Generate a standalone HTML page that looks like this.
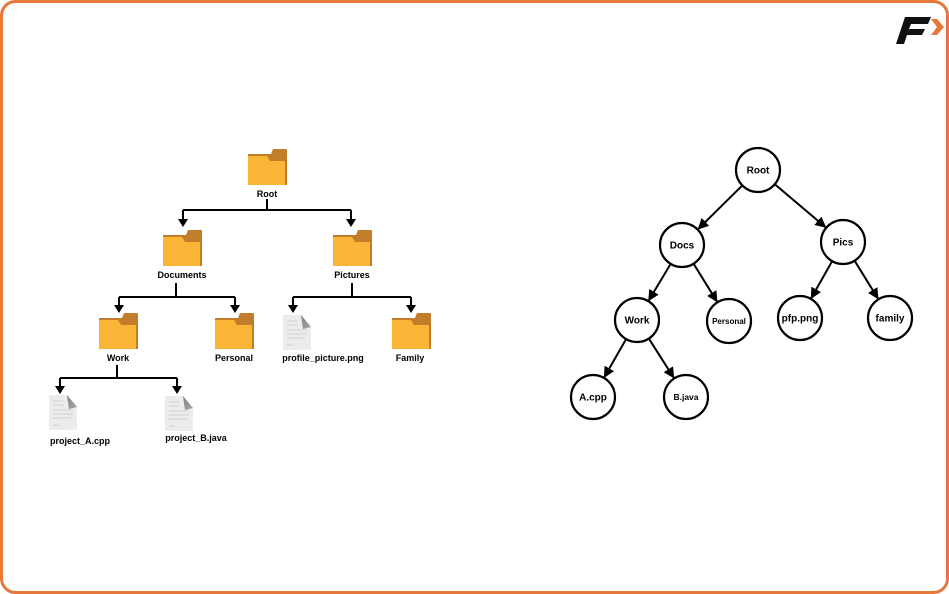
<!DOCTYPE html>
<html><head><meta charset="utf-8"><style>
html,body{margin:0;padding:0;background:#fff}
svg{display:block}
text{font-family:"Liberation Sans",Arial,sans-serif;font-weight:bold;fill:#000}
</style></head><body>
<svg id="s" width="949" height="594" viewBox="0 0 949 594" xmlns="http://www.w3.org/2000/svg">
<defs>
<marker id="ah" viewBox="0 0 10 10" refX="9" refY="5" markerWidth="5.5" markerHeight="5.5" orient="auto" markerUnits="strokeWidth">
<path d="M0,0 L10,5 L0,10 Z" fill="#000"/></marker>
<g id="folder">
<path d="M0,5 L23,5 L25,0 L38,0 Q39,0 39,1 L39,36 L0,36 Z" fill="#c27d2a"/>
<path d="M0,7 L19,7 L22,12 L37,12 L37,36 L0,36 Z" fill="#fbb536"/>
</g>
<linearGradient id="fg" x1="0" y1="0" x2="1" y2="1"><stop offset="0" stop-color="#999"/><stop offset="1" stop-color="#eee"/></linearGradient>
<g id="file">
<path d="M0,0 L18,0 L28,12 L28,35 L0,35 Z" fill="#ececec"/>
<path d="M18,0 L28,12 L20,14 Z" fill="url(#fg)"/>
<path d="M18,0 L20,14 L28,12" fill="#777" opacity="0.6"/>
<g stroke="#d0d0d0" stroke-width="1"><line x1="4" y1="6" x2="14" y2="6"/><line x1="4" y1="10" x2="15" y2="10"/><line x1="4" y1="15" x2="24" y2="15"/><line x1="4" y1="19" x2="24" y2="19"/><line x1="4" y1="23" x2="22" y2="23"/><line x1="4" y1="30" x2="10" y2="30"/></g>
</g>
</defs>
<rect x="1.5" y="1.5" width="946" height="591" rx="14" fill="#fff" stroke="#e8773a" stroke-width="3"/>
<!-- logo -->
<path d="M905,17 L931,17 L928,24 L911,24 L909,29 L925,29 L922,35 L907,35 L904,44 L896,44 Z" fill="#111"/>
<path d="M931,19 L937,19 L944,27 L937,35 L931,35 L937,27 Z" fill="#e8773a"/>

<!-- left tree -->
<g stroke="#000" stroke-width="2" fill="none">
<path d="M267,199 V210 M183,210 H351 M183,210 V224 M351,210 V224" />
<path d="M176,283 V297 M119,297 H235 M119,297 V310 M235,297 V310"/>
<path d="M352,283 V297 M293,297 H411 M293,297 V310 M411,297 V310"/>
<path d="M117,365 V378 M60,378 H177 M60,378 V391 M177,378 V391"/>
</g>
<g fill="#000">
<path d="M178,219 L188,219 L183,227 Z"/><path d="M346,219 L356,219 L351,227 Z"/>
<path d="M114,305 L124,305 L119,313 Z"/><path d="M230,305 L240,305 L235,313 Z"/>
<path d="M288,305 L298,305 L293,313 Z"/><path d="M406,305 L416,305 L411,313 Z"/>
<path d="M55,386 L65,386 L60,394 Z"/><path d="M172,386 L182,386 L177,394 Z"/>
</g>
<use href="#folder" x="248" y="149"/>
<use href="#folder" x="163" y="230"/>
<use href="#folder" x="333" y="230"/>
<use href="#folder" x="99" y="313"/>
<use href="#folder" x="215" y="313"/>
<use href="#folder" x="392" y="313"/>
<use href="#file" x="283" y="315"/>
<use href="#file" x="49" y="395"/>
<use href="#file" x="165" y="396"/>
<g font-size="9" text-anchor="middle">
<text x="267" y="197">Root</text>
<text x="182" y="278">Documents</text>
<text x="352" y="278">Pictures</text>
<text x="118" y="361">Work</text>
<text x="234" y="361">Personal</text>
<text x="323" y="361">profile_picture.png</text>
<text x="410" y="361">Family</text>
<text x="80" y="444">project_A.cpp</text>
<text x="196" y="441">project_B.java</text>
</g>
<g id="right"></g>
</svg>
<script>
var N={root:[758,170,"Root",10],docs:[682,245,"Docs",10],pics:[843,242,"Pics",10],work:[637,320,"Work",10],pers:[729,321,"Personal",8],pfp:[800,318,"pfp.png",10],fam:[890,318,"family",10],a:[593,397,"A.cpp",10],b:[686,397,"B.java",8.5]};
var E=[["root","docs"],["root","pics"],["docs","work"],["docs","pers"],["pics","pfp"],["pics","fam"],["work","a"],["work","b"]];
var r=22,g=document.getElementById("right"),h="";
E.forEach(function(e){var p=N[e[0]],q=N[e[1]],dx=q[0]-p[0],dy=q[1]-p[1],d=Math.hypot(dx,dy),ux=dx/d,uy=dy/d;
h+='<line x1="'+(p[0]+ux*r)+'" y1="'+(p[1]+uy*r)+'" x2="'+(q[0]-ux*(r+1))+'" y2="'+(q[1]-uy*(r+1))+'" stroke="#000" stroke-width="2" marker-end="url(#ah)"/>';});
for(var k in N){var n=N[k];h+='<circle cx="'+n[0]+'" cy="'+n[1]+'" r="'+r+'" fill="#fff" stroke="#000" stroke-width="2.2"/><text x="'+n[0]+'" y="'+(n[1]+n[3]*0.35)+'" font-size="'+n[3]+'" text-anchor="middle">'+n[2]+'</text>';}
g.innerHTML=h;
</script>
</body></html>
